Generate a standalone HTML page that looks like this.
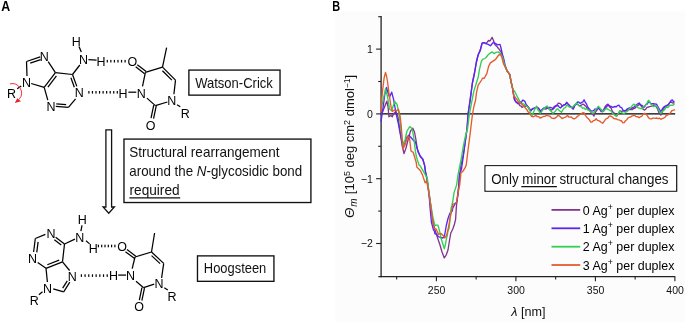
<!DOCTYPE html>
<html><head><meta charset="utf-8"><style>
html,body{margin:0;padding:0;background:#fff;}
body{width:685px;height:322px;overflow:hidden;}
svg{display:block;}
</style></head><body>
<svg width="685" height="322" viewBox="0 0 685 322" font-family='"Liberation Sans", sans-serif'>
<text transform="translate(1.2 10.8) scale(0.87 1)" font-size="14.2" font-weight="bold">A</text>
<text transform="translate(332.3 10.7) scale(0.76 1)" font-size="14.4" font-weight="bold">B</text>
<g font-family='"Liberation Sans", sans-serif' fill="#000">
<text transform="translate(44.20 61.07) scale(1 1.04)" font-size="12.5" text-anchor="middle">N</text>
<text transform="translate(26.50 86.67) scale(1 1.04)" font-size="12.5" text-anchor="middle">N</text>
<text transform="translate(79.30 97.47) scale(1 1.04)" font-size="12.5" text-anchor="middle">N</text>
<text transform="translate(51.00 110.87) scale(1 1.04)" font-size="12.5" text-anchor="middle">N</text>
<text transform="translate(83.50 63.87) scale(1 1.04)" font-size="12.5" text-anchor="middle">N</text>
<text transform="translate(76.20 45.87) scale(1 1.04)" font-size="12.5" text-anchor="middle">H</text>
<text transform="translate(101.00 65.87) scale(1 1.04)" font-size="12.5" text-anchor="middle">H</text>
<text transform="translate(11.50 97.97) scale(1 1.04)" font-size="12.5" text-anchor="middle">R</text>
<line x1="26.50" y1="61.50" x2="40.20" y2="56.90" stroke="#000" stroke-width="1.25" stroke-linecap="butt"/>
<line x1="30.24" y1="63.20" x2="40.62" y2="59.71" stroke="#000" stroke-width="1.25" stroke-linecap="butt"/>
<line x1="26.50" y1="61.50" x2="27.00" y2="76.00" stroke="#000" stroke-width="1.25" stroke-linecap="butt"/>
<line x1="31.20" y1="83.50" x2="44.20" y2="87.40" stroke="#000" stroke-width="1.25" stroke-linecap="butt"/>
<line x1="21.20" y1="86.10" x2="17.20" y2="88.80" stroke="#000" stroke-width="1.25" stroke-linecap="butt"/>
<line x1="44.20" y1="87.40" x2="55.40" y2="72.70" stroke="#000" stroke-width="1.25" stroke-linecap="butt"/>
<line x1="47.94" y1="87.11" x2="56.42" y2="75.99" stroke="#000" stroke-width="1.25" stroke-linecap="butt"/>
<line x1="48.20" y1="61.60" x2="55.40" y2="72.70" stroke="#000" stroke-width="1.25" stroke-linecap="butt"/>
<line x1="55.40" y1="72.70" x2="72.50" y2="74.50" stroke="#000" stroke-width="1.25" stroke-linecap="butt"/>
<line x1="72.50" y1="74.50" x2="79.80" y2="65.00" stroke="#000" stroke-width="1.25" stroke-linecap="butt"/>
<line x1="72.50" y1="74.50" x2="76.80" y2="86.40" stroke="#000" stroke-width="1.25" stroke-linecap="butt"/>
<line x1="70.90" y1="77.73" x2="74.35" y2="87.28" stroke="#000" stroke-width="1.25" stroke-linecap="butt"/>
<line x1="75.60" y1="98.80" x2="68.40" y2="107.40" stroke="#000" stroke-width="1.25" stroke-linecap="butt"/>
<line x1="68.40" y1="107.40" x2="55.80" y2="106.40" stroke="#000" stroke-width="1.25" stroke-linecap="butt"/>
<line x1="66.11" y1="104.61" x2="56.30" y2="103.83" stroke="#000" stroke-width="1.25" stroke-linecap="butt"/>
<line x1="47.80" y1="100.20" x2="44.20" y2="87.40" stroke="#000" stroke-width="1.25" stroke-linecap="butt"/>
<line x1="79.00" y1="46.60" x2="81.30" y2="52.00" stroke="#000" stroke-width="1.25" stroke-linecap="butt"/>
<line x1="88.40" y1="59.60" x2="96.60" y2="60.20" stroke="#000" stroke-width="1.25" stroke-linecap="butt"/>
<text transform="translate(132.40 65.87) scale(1 1.04)" font-size="12.5" text-anchor="middle">O</text>
<text transform="translate(141.20 97.57) scale(1 1.04)" font-size="12.5" text-anchor="middle">N</text>
<text transform="translate(123.10 97.57) scale(1 1.04)" font-size="12.5" text-anchor="middle">H</text>
<text transform="translate(171.70 104.97) scale(1 1.04)" font-size="12.5" text-anchor="middle">N</text>
<text transform="translate(185.30 118.37) scale(1 1.04)" font-size="12.5" text-anchor="middle">R</text>
<text transform="translate(150.70 129.87) scale(1 1.04)" font-size="12.5" text-anchor="middle">O</text>
<line x1="135.71" y1="66.83" x2="144.61" y2="73.63" stroke="#000" stroke-width="1.25" stroke-linecap="butt"/>
<line x1="137.29" y1="64.77" x2="146.19" y2="71.57" stroke="#000" stroke-width="1.25" stroke-linecap="butt"/>
<line x1="145.40" y1="72.40" x2="162.50" y2="67.10" stroke="#000" stroke-width="1.25" stroke-linecap="butt"/>
<line x1="162.50" y1="67.10" x2="166.60" y2="47.70" stroke="#000" stroke-width="1.25" stroke-linecap="butt"/>
<line x1="162.50" y1="67.10" x2="175.50" y2="80.10" stroke="#000" stroke-width="1.25" stroke-linecap="butt"/>
<line x1="162.43" y1="70.71" x2="171.89" y2="80.17" stroke="#000" stroke-width="1.25" stroke-linecap="butt"/>
<line x1="175.50" y1="80.10" x2="173.90" y2="94.20" stroke="#000" stroke-width="1.25" stroke-linecap="butt"/>
<line x1="177.00" y1="104.70" x2="180.30" y2="106.70" stroke="#000" stroke-width="1.25" stroke-linecap="butt"/>
<line x1="167.40" y1="102.00" x2="155.40" y2="105.60" stroke="#000" stroke-width="1.25" stroke-linecap="butt"/>
<line x1="155.40" y1="105.60" x2="146.90" y2="98.10" stroke="#000" stroke-width="1.25" stroke-linecap="butt"/>
<line x1="142.50" y1="86.30" x2="145.40" y2="72.40" stroke="#000" stroke-width="1.25" stroke-linecap="butt"/>
<line x1="128.40" y1="92.20" x2="136.30" y2="92.20" stroke="#000" stroke-width="1.25" stroke-linecap="butt"/>
<line x1="153.73" y1="105.13" x2="151.03" y2="118.03" stroke="#000" stroke-width="1.25" stroke-linecap="butt"/>
<line x1="156.27" y1="105.67" x2="153.57" y2="118.57" stroke="#000" stroke-width="1.25" stroke-linecap="butt"/>
<rect x="106.70" y="59.90" width="1.2" height="2.6" fill="#000"/>
<rect x="110.26" y="59.90" width="1.2" height="2.6" fill="#000"/>
<rect x="113.82" y="59.90" width="1.2" height="2.6" fill="#000"/>
<rect x="117.38" y="59.90" width="1.2" height="2.6" fill="#000"/>
<rect x="120.94" y="59.90" width="1.2" height="2.6" fill="#000"/>
<rect x="124.50" y="59.90" width="1.2" height="2.6" fill="#000"/>
<rect x="88.30" y="91.00" width="1.2" height="2.6" fill="#000"/>
<rect x="91.85" y="91.00" width="1.2" height="2.6" fill="#000"/>
<rect x="95.40" y="91.00" width="1.2" height="2.6" fill="#000"/>
<rect x="98.95" y="91.00" width="1.2" height="2.6" fill="#000"/>
<rect x="102.50" y="91.00" width="1.2" height="2.6" fill="#000"/>
<rect x="106.05" y="91.00" width="1.2" height="2.6" fill="#000"/>
<rect x="109.60" y="91.00" width="1.2" height="2.6" fill="#000"/>
<rect x="113.15" y="91.00" width="1.2" height="2.6" fill="#000"/>
<rect x="116.70" y="91.00" width="1.2" height="2.6" fill="#000"/>
</g>
<path d="M 9.9 83.9 A 9.4 9.4 0 0 1 19.2 99.2" fill="none" stroke="#ea2a36" stroke-width="0.95"/>
<path d="M 14.8 102.9 L 17.3 98.3 L 21.0 101.2 Z" fill="#e8202a"/>
<g font-family='"Liberation Sans", sans-serif' fill="#000">
<text transform="translate(82.30 223.67) scale(1 1.04)" font-size="12.5" text-anchor="middle">H</text>
<text transform="translate(79.80 241.87) scale(1 1.04)" font-size="12.5" text-anchor="middle">N</text>
<text transform="translate(93.30 253.47) scale(1 1.04)" font-size="12.5" text-anchor="middle">H</text>
<text transform="translate(51.00 237.87) scale(1 1.04)" font-size="12.5" text-anchor="middle">N</text>
<text transform="translate(32.50 262.57) scale(1 1.04)" font-size="12.5" text-anchor="middle">N</text>
<text transform="translate(72.30 281.37) scale(1 1.04)" font-size="12.5" text-anchor="middle">N</text>
<text transform="translate(47.50 293.07) scale(1 1.04)" font-size="12.5" text-anchor="middle">N</text>
<text transform="translate(34.20 304.87) scale(1 1.04)" font-size="12.5" text-anchor="middle">R</text>
<line x1="82.00" y1="225.40" x2="80.90" y2="231.20" stroke="#000" stroke-width="1.25" stroke-linecap="butt"/>
<line x1="86.00" y1="240.80" x2="89.60" y2="243.90" stroke="#000" stroke-width="1.25" stroke-linecap="butt"/>
<line x1="74.90" y1="239.10" x2="64.50" y2="244.00" stroke="#000" stroke-width="1.25" stroke-linecap="butt"/>
<line x1="64.50" y1="244.00" x2="55.60" y2="237.30" stroke="#000" stroke-width="1.25" stroke-linecap="butt"/>
<line x1="61.22" y1="245.03" x2="54.32" y2="239.84" stroke="#000" stroke-width="1.25" stroke-linecap="butt"/>
<line x1="45.40" y1="234.40" x2="35.30" y2="238.50" stroke="#000" stroke-width="1.25" stroke-linecap="butt"/>
<line x1="35.30" y1="238.50" x2="33.60" y2="252.00" stroke="#000" stroke-width="1.25" stroke-linecap="butt"/>
<line x1="38.10" y1="241.88" x2="36.77" y2="252.40" stroke="#000" stroke-width="1.25" stroke-linecap="butt"/>
<line x1="37.70" y1="262.40" x2="46.00" y2="268.30" stroke="#000" stroke-width="1.25" stroke-linecap="butt"/>
<line x1="46.00" y1="268.30" x2="62.50" y2="261.80" stroke="#000" stroke-width="1.25" stroke-linecap="butt"/>
<line x1="47.30" y1="264.78" x2="59.15" y2="260.11" stroke="#000" stroke-width="1.25" stroke-linecap="butt"/>
<line x1="62.50" y1="261.80" x2="64.50" y2="244.00" stroke="#000" stroke-width="1.25" stroke-linecap="butt"/>
<line x1="62.50" y1="261.80" x2="69.60" y2="270.50" stroke="#000" stroke-width="1.25" stroke-linecap="butt"/>
<line x1="46.00" y1="268.30" x2="47.40" y2="282.00" stroke="#000" stroke-width="1.25" stroke-linecap="butt"/>
<line x1="53.20" y1="288.90" x2="63.70" y2="291.80" stroke="#000" stroke-width="1.25" stroke-linecap="butt"/>
<line x1="63.70" y1="291.80" x2="69.80" y2="282.20" stroke="#000" stroke-width="1.25" stroke-linecap="butt"/>
<line x1="62.68" y1="288.19" x2="67.28" y2="280.95" stroke="#000" stroke-width="1.25" stroke-linecap="butt"/>
<line x1="42.50" y1="291.80" x2="38.90" y2="294.70" stroke="#000" stroke-width="1.25" stroke-linecap="butt"/>
<text transform="translate(122.00 250.77) scale(1 1.04)" font-size="12.5" text-anchor="middle">O</text>
<text transform="translate(113.50 280.07) scale(1 1.04)" font-size="12.5" text-anchor="middle">H</text>
<text transform="translate(130.50 280.27) scale(1 1.04)" font-size="12.5" text-anchor="middle">N</text>
<text transform="translate(159.00 287.57) scale(1 1.04)" font-size="12.5" text-anchor="middle">N</text>
<text transform="translate(172.00 300.87) scale(1 1.04)" font-size="12.5" text-anchor="middle">R</text>
<text transform="translate(139.00 311.27) scale(1 1.04)" font-size="12.5" text-anchor="middle">O</text>
<line x1="125.42" y1="251.64" x2="134.22" y2="258.24" stroke="#000" stroke-width="1.25" stroke-linecap="butt"/>
<line x1="126.98" y1="249.56" x2="135.78" y2="256.16" stroke="#000" stroke-width="1.25" stroke-linecap="butt"/>
<line x1="135.00" y1="257.00" x2="151.50" y2="252.00" stroke="#000" stroke-width="1.25" stroke-linecap="butt"/>
<line x1="151.50" y1="252.00" x2="154.60" y2="233.00" stroke="#000" stroke-width="1.25" stroke-linecap="butt"/>
<line x1="151.50" y1="252.00" x2="163.70" y2="263.40" stroke="#000" stroke-width="1.25" stroke-linecap="butt"/>
<line x1="151.55" y1="255.61" x2="160.10" y2="263.59" stroke="#000" stroke-width="1.25" stroke-linecap="butt"/>
<line x1="163.70" y1="263.40" x2="161.60" y2="278.00" stroke="#000" stroke-width="1.25" stroke-linecap="butt"/>
<line x1="164.30" y1="287.70" x2="167.80" y2="290.00" stroke="#000" stroke-width="1.25" stroke-linecap="butt"/>
<line x1="154.20" y1="284.20" x2="143.60" y2="287.70" stroke="#000" stroke-width="1.25" stroke-linecap="butt"/>
<line x1="143.60" y1="287.70" x2="136.00" y2="281.20" stroke="#000" stroke-width="1.25" stroke-linecap="butt"/>
<line x1="132.20" y1="268.70" x2="135.00" y2="257.00" stroke="#000" stroke-width="1.25" stroke-linecap="butt"/>
<line x1="118.20" y1="275.10" x2="126.10" y2="275.10" stroke="#000" stroke-width="1.25" stroke-linecap="butt"/>
<line x1="141.93" y1="287.63" x2="139.33" y2="300.03" stroke="#000" stroke-width="1.25" stroke-linecap="butt"/>
<line x1="144.47" y1="288.17" x2="141.87" y2="300.57" stroke="#000" stroke-width="1.25" stroke-linecap="butt"/>
<rect x="97.80" y="244.70" width="1.2" height="2.6" fill="#000"/>
<rect x="101.10" y="244.70" width="1.2" height="2.6" fill="#000"/>
<rect x="104.40" y="244.70" width="1.2" height="2.6" fill="#000"/>
<rect x="107.70" y="244.70" width="1.2" height="2.6" fill="#000"/>
<rect x="111.00" y="244.70" width="1.2" height="2.6" fill="#000"/>
<rect x="114.30" y="244.70" width="1.2" height="2.6" fill="#000"/>
<rect x="80.80" y="274.30" width="1.2" height="2.6" fill="#000"/>
<rect x="84.49" y="274.30" width="1.2" height="2.6" fill="#000"/>
<rect x="88.17" y="274.30" width="1.2" height="2.6" fill="#000"/>
<rect x="91.86" y="274.30" width="1.2" height="2.6" fill="#000"/>
<rect x="95.54" y="274.30" width="1.2" height="2.6" fill="#000"/>
<rect x="99.23" y="274.30" width="1.2" height="2.6" fill="#000"/>
<rect x="102.91" y="274.30" width="1.2" height="2.6" fill="#000"/>
<rect x="106.60" y="274.30" width="1.2" height="2.6" fill="#000"/>
</g>
<rect x="188.88" y="70.08" width="91.15" height="25.05" fill="none" stroke="#111" stroke-width="1.35"/>
<text x="195.2" y="88.2" font-size="14.3" textLength="77.6" lengthAdjust="spacingAndGlyphs" fill="#111" >Watson-Crick</text>
<rect x="197.48" y="255.88" width="76.45" height="25.45" fill="none" stroke="#111" stroke-width="1.35"/>
<text x="203.8" y="273.3" font-size="14.3" textLength="62.5" lengthAdjust="spacingAndGlyphs" fill="#111" >Hoogsteen</text>
<rect x="123.97" y="139.08" width="186.95" height="63.45" fill="none" stroke="#111" stroke-width="1.35"/>
<text x="129.3" y="156.6" font-size="14.3" textLength="150.2" lengthAdjust="spacingAndGlyphs" fill="#111" >Structural rearrangement</text>
<text x="129.3" y="175.7" font-size="14.3" textLength="172.9" lengthAdjust="spacingAndGlyphs" fill="#111" >around the <tspan font-style="italic">N</tspan>-glycosidic bond</text>
<text x="129.5" y="195.1" font-size="14.3" textLength="50.1" lengthAdjust="spacingAndGlyphs" fill="#111" >required</text>
<line x1="129.40" y1="197.90" x2="180.20" y2="197.90" stroke="#111" stroke-width="1.25" stroke-linecap="butt"/>
<path d="M105.9 129.9 H111.6 V207.0 H114.4 L108.75 213.2 L103.1 207.0 H105.9 Z" fill="none" stroke="#111" stroke-width="1.3"/>
<rect x="335" y="11.5" width="350" height="312" fill="#fcfcfc"/>
<line x1="381.1" y1="15.9" x2="381.1" y2="277.2" stroke="#222" stroke-width="1.3"/>
<line x1="378.4" y1="276.6" x2="675.2" y2="276.6" stroke="#222" stroke-width="1.3"/>
<line x1="378.20" y1="16.70" x2="381.1" y2="16.70" stroke="#222" stroke-width="1.1"/>
<line x1="376.10" y1="49.10" x2="381.1" y2="49.10" stroke="#222" stroke-width="1.1"/>
<line x1="378.20" y1="81.50" x2="381.1" y2="81.50" stroke="#222" stroke-width="1.1"/>
<line x1="376.10" y1="113.90" x2="381.1" y2="113.90" stroke="#222" stroke-width="1.1"/>
<line x1="378.20" y1="146.30" x2="381.1" y2="146.30" stroke="#222" stroke-width="1.1"/>
<line x1="376.10" y1="178.70" x2="381.1" y2="178.70" stroke="#222" stroke-width="1.1"/>
<line x1="378.20" y1="211.10" x2="381.1" y2="211.10" stroke="#222" stroke-width="1.1"/>
<line x1="376.10" y1="243.50" x2="381.1" y2="243.50" stroke="#222" stroke-width="1.1"/>
<line x1="396.65" y1="276.6" x2="396.65" y2="279.60" stroke="#222" stroke-width="1.1"/>
<line x1="436.40" y1="276.6" x2="436.40" y2="281.20" stroke="#222" stroke-width="1.1"/>
<line x1="476.15" y1="276.6" x2="476.15" y2="279.60" stroke="#222" stroke-width="1.1"/>
<line x1="515.90" y1="276.6" x2="515.90" y2="281.20" stroke="#222" stroke-width="1.1"/>
<line x1="555.65" y1="276.6" x2="555.65" y2="279.60" stroke="#222" stroke-width="1.1"/>
<line x1="595.40" y1="276.6" x2="595.40" y2="281.20" stroke="#222" stroke-width="1.1"/>
<line x1="635.15" y1="276.6" x2="635.15" y2="279.60" stroke="#222" stroke-width="1.1"/>
<line x1="674.90" y1="276.6" x2="674.90" y2="281.20" stroke="#222" stroke-width="1.1"/>
<g font-family='"Liberation Sans", sans-serif' font-size="10.5" fill="#111">
<text transform="translate(372.9 53.05) scale(1 1.05)" text-anchor="end">1</text>
<text transform="translate(372.9 117.85) scale(1 1.05)" text-anchor="end">0</text>
<text transform="translate(372.9 182.65) scale(1 1.05)" text-anchor="end">−1</text>
<text transform="translate(372.9 247.45) scale(1 1.05)" text-anchor="end">−2</text>
<text transform="translate(436.60 294.1) scale(1 1.05)" text-anchor="middle">250</text>
<text transform="translate(516.10 294.1) scale(1 1.05)" text-anchor="middle">300</text>
<text transform="translate(595.60 294.1) scale(1 1.05)" text-anchor="middle">350</text>
<text transform="translate(675.10 294.1) scale(1 1.05)" text-anchor="middle">400</text>
</g>
<text x="511.3" y="316.3" font-family='"Liberation Sans", sans-serif' font-size="12.6" fill="#111"><tspan font-style="italic">λ</tspan> [nm]</text>
<text transform="translate(354.3 218.0) rotate(-90)" font-family='"Liberation Sans", sans-serif' font-size="13" fill="#111" textLength="143.2" lengthAdjust="spacingAndGlyphs"><tspan font-style="italic" font-size="13.6">Θ</tspan><tspan font-style="italic" font-size="10" dy="2.6" dx="0.6">m</tspan><tspan dy="-2.6" dx="0.8"> [10</tspan><tspan font-size="9" dy="-4.8">5</tspan><tspan dy="4.8"> deg cm</tspan><tspan font-size="9" dy="-4.8">2</tspan><tspan dy="4.8"> dmol</tspan><tspan font-size="8.6" dy="-4.8">−1</tspan><tspan dy="4.8">]</tspan></text>
<line x1="381.1" y1="113.9" x2="675.2" y2="113.9" stroke="#000" stroke-width="1.35"/>
<path d="M381.4 114.8 L384.1 108.0 L386.9 101.1 L388.2 108.0 L388.9 116.8 L391.0 115.5 L392.3 116.8 L393.5 114.0 L395.8 111.4 L397.8 116.2 L400.0 130.0 L402.0 145.0 L404.0 153.6 L406.0 148.0 L408.0 140.0 L410.5 131.0 L412.8 128.3 L414.5 132.0 L416.0 140.0 L417.1 148.0 L418.0 151.4 L420.2 156.2 L422.8 159.3 L424.6 165.4 L425.5 172.0 L427.0 180.0 L428.5 190.0 L430.0 200.0 L431.5 212.0 L433.0 222.0 L435.0 230.0 L437.4 237.4 L440.0 245.0 L442.0 252.0 L444.3 257.9 L446.2 255.0 L448.0 250.0 L449.5 240.5 L450.8 233.0 L452.8 229.0 L454.5 224.0 L455.6 219.3 L456.3 208.0 L456.8 202.5 L458.8 185.0 L459.5 175.0 L461.0 165.0 L463.2 155.0 L465.5 140.0 L467.1 128.0 L468.1 114.0 L470.0 100.0 L472.4 83.0 L474.6 72.5 L476.4 62.0 L478.1 55.0 L480.3 50.1 L482.1 43.1 L483.8 42.7 L486.0 43.6 L488.6 40.5 L490.0 41.0 L492.1 37.4 L493.5 40.5 L494.8 44.4 L497.0 46.6 L499.2 49.3 L501.3 52.3 L503.0 58.0 L505.0 66.0 L507.0 70.8 L509.7 74.3 L511.0 81.3 L512.7 88.8 L514.0 97.5 L514.5 100.1 L517.5 103.6 L518.7 103.7 L519.8 105.7 L521.0 105.8 L522.0 107.5 L524.0 106.0 L525.5 106.5 L527.0 106.0 L528.3 106.9 L529.5 108.7 L530.8 110.0 L532.1 109.1 L533.4 108.4 L534.6 108.2 L535.7 108.1 L536.9 107.1 L538.1 107.7 L539.2 108.9 L540.4 111.0 L541.6 110.8 L542.7 109.2 L543.9 108.5 L545.2 109.1 L546.5 108.8 L547.8 108.0 L549.0 109.0 L550.4 109.5 L551.8 110.1 L552.9 109.1 L553.9 106.9 L555.0 106.0 L556.1 105.8 L557.2 104.8 L558.3 103.1 L559.6 103.3 L561.0 104.3 L562.3 106.2 L563.8 105.2 L565.2 104.9 L566.7 103.0 L568.2 104.3 L569.7 106.0 L571.2 106.9 L572.8 108.8 L573.9 107.1 L574.9 104.8 L576.0 104.0 L577.3 104.2 L578.7 105.2 L580.0 106.0 L581.5 105.0 L583.0 104.1 L584.3 104.9 L585.7 106.2 L587.0 108.0 L588.5 109.0 L590.0 111.0 L591.3 112.6 L592.6 114.0 L593.9 116.1 L595.5 112.2 L597.0 110.0 L598.3 107.0 L599.7 108.9 L601.2 109.8 L602.6 111.0 L603.8 109.3 L605.0 107.0 L606.5 105.0 L608.0 104.1 L609.5 106.9 L611.0 108.0 L612.2 111.0 L613.5 112.8 L614.6 113.2 L615.6 114.7 L616.7 116.1 L617.8 114.7 L618.9 112.9 L620.0 110.7 L621.4 111.6 L622.9 110.8 L624.3 111.0 L625.5 111.2 L626.8 110.6 L628.0 109.6 L629.3 109.6 L630.8 109.4 L632.2 109.6 L633.7 108.5 L635.1 108.1 L636.4 106.5 L637.8 105.7 L639.1 104.5 L640.5 105.1 L641.9 106.8 L643.2 109.2 L644.6 110.1 L645.9 108.9 L647.1 107.4 L648.4 107.0 L649.6 106.6 L650.8 106.4 L652.1 105.8 L653.3 105.0 L654.4 105.4 L655.4 106.2 L656.5 107.0 L657.6 109.3 L658.7 112.1 L659.8 113.9 L660.9 115.0 L662.0 112.7 L663.0 110.1 L664.1 108.0 L665.6 107.0 L667.0 105.2 L668.5 105.0 L669.6 102.7 L670.7 102.0 L672.0 102.5 L673.2 103.2 L674.5 102.5" fill="none" stroke="#84368e" stroke-width="1.35" stroke-linejoin="round"/>
<path d="M381.0 121.6 L382.8 109.3 L384.8 94.3 L386.5 87.5 L388.2 93.6 L389.6 97.0 L391.7 92.2 L393.7 99.8 L395.1 108.0 L396.4 114.8 L398.5 124.4 L400.5 135.0 L402.0 142.0 L403.6 145.3 L405.0 142.0 L407.0 137.0 L408.8 135.3 L411.0 137.5 L413.6 140.6 L415.4 141.8 L418.0 151.4 L420.2 156.2 L422.8 159.3 L424.6 165.4 L425.5 172.0 L426.9 177.5 L428.2 188.0 L429.5 200.0 L430.1 208.0 L431.4 222.0 L433.5 230.0 L434.5 231.5 L435.0 233.9 L436.5 234.0 L438.3 236.6 L440.5 237.5 L442.9 238.0 L444.5 236.0 L446.3 225.5 L448.0 218.5 L450.0 213.0 L452.2 211.3 L452.8 208.0 L455.0 204.0 L457.0 201.6 L458.5 190.0 L459.5 175.0 L461.5 169.0 L463.5 155.0 L465.5 140.0 L467.1 128.0 L468.1 114.0 L470.3 100.0 L472.4 83.0 L474.6 72.5 L476.4 62.0 L478.1 55.0 L480.3 50.1 L482.1 43.1 L483.8 42.7 L486.0 43.6 L488.2 44.4 L490.4 45.8 L493.5 42.3 L495.6 43.6 L497.8 44.9 L500.0 44.4 L500.9 47.5 L502.2 53.6 L503.5 58.0 L505.0 65.0 L507.0 70.8 L509.7 74.3 L511.0 81.3 L512.7 88.8 L514.0 97.5 L515.8 101.9 L518.0 103.0 L519.1 103.2 L520.3 101.8 L521.5 102.2 L522.6 100.1 L523.8 100.5 L525.0 101.5 L526.1 104.6 L527.3 105.8 L528.5 108.0 L529.6 109.6 L530.8 111.0 L532.1 109.4 L533.4 108.4 L534.6 108.2 L535.7 107.7 L536.9 107.1 L538.1 108.7 L539.2 109.4 L540.4 111.5 L541.6 110.2 L542.7 109.0 L543.9 108.0 L545.1 108.1 L546.2 108.3 L547.4 107.1 L548.6 108.0 L549.7 107.4 L550.9 107.5 L552.2 108.1 L553.5 108.8 L554.7 107.4 L555.8 106.0 L557.0 105.8 L558.2 105.7 L559.3 107.2 L560.5 108.0 L562.0 106.2 L563.6 104.9 L565.2 104.4 L566.7 102.3 L568.2 104.1 L569.7 105.8 L570.9 107.0 L572.1 107.5 L573.3 109.0 L574.7 105.8 L576.2 104.0 L577.6 102.0 L579.0 102.1 L580.3 103.6 L581.6 102.4 L582.8 102.0 L584.1 99.8 L585.2 102.3 L586.3 103.6 L587.4 106.3 L588.8 108.6 L590.3 110.1 L591.7 111.2 L592.8 110.9 L593.9 110.5 L595.0 109.0 L596.1 109.3 L597.2 109.2 L598.3 108.5 L599.7 109.3 L601.2 111.5 L602.6 111.7 L604.0 110.8 L605.3 107.6 L606.6 106.9 L608.0 104.7 L609.5 106.0 L610.9 106.4 L612.4 107.4 L613.7 107.0 L615.0 106.5 L616.3 106.8 L617.6 105.6 L618.9 105.2 L620.2 107.2 L621.6 107.7 L622.9 110.0 L624.3 110.7 L625.5 110.7 L626.8 109.2 L628.0 108.7 L629.3 107.9 L630.8 108.5 L632.2 108.0 L633.7 107.4 L635.1 106.3 L636.4 104.7 L637.8 103.8 L639.1 103.0 L640.6 104.8 L642.0 105.3 L643.5 107.4 L644.7 106.8 L646.0 104.3 L647.2 104.1 L648.4 102.0 L649.6 102.1 L650.8 103.6 L652.1 103.6 L653.3 103.6 L654.4 103.8 L655.4 104.0 L656.5 104.1 L658.0 106.9 L659.4 109.3 L660.9 111.7 L662.0 109.7 L663.0 107.9 L664.1 106.8 L665.6 105.9 L667.0 105.8 L668.5 104.1 L669.9 102.4 L671.2 100.3 L672.3 99.9 L673.4 101.6 L674.5 101.4" fill="none" stroke="#5a26f4" stroke-width="1.35" stroke-linejoin="round"/>
<path d="M381.0 109.3 L383.5 98.4 L385.5 88.8 L387.6 97.0 L389.6 109.3 L391.7 110.7 L393.5 105.0 L395.1 101.8 L397.1 104.5 L399.2 114.8 L400.5 125.7 L402.0 138.0 L403.5 145.0 L405.0 140.0 L407.0 131.0 L409.7 126.6 L411.5 128.0 L413.0 133.0 L414.1 140.0 L415.4 151.4 L416.5 157.0 L418.0 161.9 L419.0 165.0 L420.3 166.1 L423.4 171.4 L427.3 178.4 L428.5 188.0 L430.0 200.0 L431.4 208.0 L433.0 218.0 L434.9 225.5 L436.5 225.2 L438.0 225.1 L439.0 229.0 L440.1 233.4 L441.0 238.0 L442.5 243.0 L444.3 248.8 L445.5 244.0 L446.6 238.0 L447.4 234.9 L448.0 231.0 L449.0 228.7 L450.0 220.0 L451.1 208.0 L451.8 206.0 L453.0 200.0 L454.0 192.9 L456.6 185.0 L458.0 175.0 L461.0 160.0 L463.0 148.0 L465.0 138.0 L467.7 128.0 L469.4 114.0 L472.1 100.0 L473.8 91.4 L476.4 83.0 L477.3 80.0 L478.1 77.8 L479.4 69.9 L481.2 62.0 L482.5 59.4 L484.7 58.5 L485.6 58.0 L488.0 55.0 L489.5 53.6 L492.1 51.9 L493.9 53.6 L496.1 52.3 L498.3 51.9 L500.5 53.6 L502.5 57.0 L504.0 63.0 L507.0 70.8 L509.7 75.0 L511.0 81.3 L512.7 88.8 L515.0 92.0 L517.5 97.0 L518.9 99.6 L520.3 103.1 L521.5 103.5 L522.6 103.5 L523.8 104.0 L525.0 105.0 L526.1 105.9 L527.3 106.5 L528.5 107.9 L529.7 110.1 L530.9 113.8 L532.1 115.4 L533.6 111.9 L535.0 108.8 L536.5 106.2 L537.7 109.4 L538.8 110.8 L540.0 113.2 L541.2 112.4 L542.3 110.4 L543.5 109.0 L544.8 108.3 L546.1 106.5 L547.4 106.2 L548.7 108.2 L550.0 110.4 L551.4 111.5 L552.7 113.2 L554.0 112.5 L555.3 111.3 L556.6 109.1 L557.9 108.8 L559.1 110.4 L560.2 111.3 L561.4 112.3 L562.7 110.2 L564.0 108.0 L565.4 107.7 L566.7 105.3 L568.1 106.0 L569.6 107.2 L571.0 107.5 L572.4 107.1 L573.8 105.6 L575.1 104.9 L576.5 103.0 L577.7 103.9 L578.8 105.7 L580.0 106.3 L581.3 106.8 L582.7 108.2 L584.0 108.0 L585.3 109.3 L586.7 108.6 L588.0 110.0 L589.6 110.5 L591.2 111.8 L592.8 113.4 L594.2 112.5 L595.5 109.7 L596.9 108.3 L598.3 106.3 L599.7 107.7 L601.2 109.9 L602.6 111.7 L604.1 110.4 L605.5 109.3 L607.0 108.5 L608.3 109.5 L609.7 110.3 L611.0 111.0 L612.6 113.4 L614.1 114.7 L615.7 116.1 L617.1 115.1 L618.6 113.1 L620.0 110.7 L621.4 112.7 L622.9 113.1 L624.3 113.9 L625.5 111.9 L626.8 111.8 L628.0 110.7 L629.3 108.5 L630.8 107.8 L632.2 105.7 L633.7 104.1 L635.1 105.5 L636.4 105.5 L637.8 107.6 L639.1 108.0 L640.2 108.5 L641.3 108.3 L642.4 109.0 L643.9 106.0 L645.4 105.3 L646.9 103.4 L648.4 100.3 L649.6 101.2 L650.8 104.1 L652.1 105.0 L653.3 106.8 L654.5 106.0 L655.8 106.1 L657.0 106.3 L658.3 109.2 L659.6 111.7 L660.9 113.4 L662.3 111.1 L663.6 110.7 L665.0 109.0 L666.4 107.2 L667.9 107.5 L669.3 105.8 L670.7 105.2 L672.0 105.4 L673.2 105.0 L674.5 103.6" fill="none" stroke="#33cf55" stroke-width="1.35" stroke-linejoin="round"/>
<path d="M381.0 112.0 L381.7 100.0 L382.8 88.8 L384.1 78.0 L385.5 72.5 L386.5 76.0 L387.6 82.0 L388.9 92.9 L391.0 106.6 L392.3 111.4 L394.4 110.0 L396.4 110.7 L398.5 109.3 L399.9 114.8 L401.2 125.7 L402.2 140.0 L403.1 148.8 L405.0 145.0 L406.5 140.0 L408.0 136.2 L409.5 138.0 L411.0 151.0 L413.2 152.3 L416.3 162.8 L416.8 167.0 L420.3 170.5 L422.5 174.9 L425.1 182.8 L426.5 181.0 L428.2 188.0 L430.0 200.0 L431.5 212.0 L433.0 222.0 L434.0 228.1 L436.2 229.0 L438.4 234.3 L441.0 233.4 L443.2 235.6 L444.8 238.0 L446.6 235.3 L448.9 225.5 L450.0 218.0 L451.5 211.5 L452.7 204.3 L456.6 202.5 L458.9 188.0 L459.7 185.0 L461.0 172.3 L462.5 171.8 L465.0 167.9 L466.2 165.3 L468.0 150.0 L470.0 135.0 L470.8 128.0 L472.5 114.0 L474.0 106.0 L475.6 100.0 L476.4 93.1 L478.1 85.3 L481.6 80.0 L482.5 78.2 L484.3 78.2 L486.9 73.4 L488.6 66.4 L490.4 62.9 L493.0 61.1 L495.6 59.4 L498.7 55.0 L500.5 54.5 L501.8 57.1 L503.5 63.8 L507.0 70.8 L509.7 74.3 L511.0 81.3 L512.7 88.8 L514.0 97.0 L515.0 97.0 L519.4 103.1 L520.9 103.7 L522.3 104.5 L523.8 106.2 L525.2 107.9 L526.7 109.4 L528.1 111.9 L529.3 112.6 L530.4 114.7 L531.6 116.3 L533.1 116.8 L534.5 116.2 L536.0 115.4 L537.3 116.7 L538.7 116.6 L540.0 118.0 L541.6 117.5 L543.2 116.5 L544.8 116.3 L546.1 115.7 L547.4 115.6 L548.7 115.8 L550.0 116.3 L551.3 117.8 L552.7 118.4 L554.0 118.5 L555.3 118.0 L556.6 117.0 L557.9 115.4 L559.3 115.9 L560.6 117.1 L562.0 118.5 L563.4 118.0 L564.8 117.4 L566.1 116.8 L567.5 115.4 L568.8 117.0 L570.0 117.2 L571.4 117.0 L572.9 118.5 L574.3 118.8 L575.8 118.0 L577.2 116.6 L578.7 115.5 L580.1 114.2 L581.4 114.1 L582.8 112.7 L584.1 112.8 L585.4 115.4 L586.7 117.2 L588.1 118.5 L589.4 119.9 L590.7 122.1 L592.1 122.0 L593.4 120.6 L594.8 120.3 L596.1 118.8 L597.4 120.3 L598.7 120.6 L600.0 121.3 L601.3 122.5 L602.6 123.2 L603.9 121.7 L605.2 119.8 L606.5 118.6 L607.8 118.1 L609.1 116.1 L610.6 116.0 L612.0 116.8 L613.5 118.3 L614.9 118.9 L616.2 118.7 L617.5 119.6 L618.9 119.9 L620.2 120.5 L621.6 121.0 L622.9 122.8 L624.3 122.6 L625.5 120.7 L626.8 119.7 L628.0 118.0 L629.3 117.2 L630.7 117.0 L632.0 115.9 L633.4 115.7 L634.8 115.5 L636.2 116.7 L637.7 116.6 L639.1 117.7 L640.5 116.7 L641.9 116.3 L643.2 113.8 L644.6 113.4 L646.0 114.0 L647.3 115.6 L648.6 117.9 L650.0 118.8 L651.4 118.9 L652.7 118.1 L654.0 118.1 L655.4 118.3 L656.8 118.0 L658.1 118.7 L659.5 118.2 L660.9 119.3 L662.2 118.7 L663.6 118.1 L664.9 117.3 L666.3 115.5 L667.8 114.9 L669.2 114.2 L670.7 112.3 L672.1 110.5 L673.6 110.1 L675.0 109.6" fill="none" stroke="#e25c2e" stroke-width="1.35" stroke-linejoin="round"/>
<rect x="485.07" y="165.78" width="191.55" height="25.35" fill="none" stroke="#111" stroke-width="1.35"/>
<rect x="485.6" y="166.3" width="190.5" height="24.3" fill="#fff"/>
<text x="491.2" y="183.9" font-size="14.3" textLength="177.3" lengthAdjust="spacingAndGlyphs" fill="#111" >Only minor structural changes</text>
<line x1="521.30" y1="186.70" x2="556.90" y2="186.70" stroke="#111" stroke-width="1.25" stroke-linecap="butt"/>
<line x1="551.5" y1="209.9" x2="580.2" y2="209.9" stroke="#84368e" stroke-width="1.8"/>
<text x="582.8" y="214.60" font-family='"Liberation Sans", sans-serif' font-size="12.2" fill="#000" textLength="91.6" lengthAdjust="spacingAndGlyphs">0 Ag<tspan font-size="8.6" dy="-5.0">+</tspan><tspan dy="5.0"> per duplex</tspan></text>
<line x1="551.5" y1="228.3" x2="580.2" y2="228.3" stroke="#5a26f4" stroke-width="1.8"/>
<text x="582.8" y="233.00" font-family='"Liberation Sans", sans-serif' font-size="12.2" fill="#000" textLength="91.6" lengthAdjust="spacingAndGlyphs">1 Ag<tspan font-size="8.6" dy="-5.0">+</tspan><tspan dy="5.0"> per duplex</tspan></text>
<line x1="551.5" y1="246.7" x2="580.2" y2="246.7" stroke="#33cf55" stroke-width="1.8"/>
<text x="582.8" y="251.40" font-family='"Liberation Sans", sans-serif' font-size="12.2" fill="#000" textLength="91.6" lengthAdjust="spacingAndGlyphs">2 Ag<tspan font-size="8.6" dy="-5.0">+</tspan><tspan dy="5.0"> per duplex</tspan></text>
<line x1="551.5" y1="265.0" x2="580.2" y2="265.0" stroke="#e25c2e" stroke-width="1.8"/>
<text x="582.8" y="269.70" font-family='"Liberation Sans", sans-serif' font-size="12.2" fill="#000" textLength="91.6" lengthAdjust="spacingAndGlyphs">3 Ag<tspan font-size="8.6" dy="-5.0">+</tspan><tspan dy="5.0"> per duplex</tspan></text>
</svg>
</body></html>
